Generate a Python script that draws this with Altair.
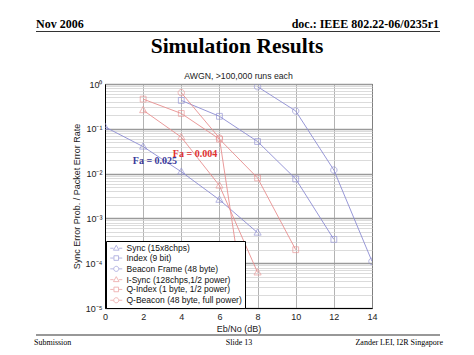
import altair as alt
import pandas as pd

# ---- data ----
series_names = [
    "Sync (15x8chps)",
    "Index (9 bit)",
    "Beacon Frame (48 byte)",
    "I-Sync (128chps,1/2 power)",
    "Q-Index (1 byte, 1/2 power)",
    "Q-Beacon (48 byte, full power)",
]
sync_x = [0, 2, 4, 6, 8]
sync_y = [0.11, 0.040, 0.011, 0.0026, 0.00048]
index_x = [4, 6, 8, 10, 12]
index_y = [0.43, 0.19, 0.052, 0.0076, 0.00034]
beacon_x = [8, 10, 12, 14]
beacon_y = [0.87, 0.25, 0.012, 0.00011]
isync_x = [2, 4, 6, 8]
isync_y = [0.26, 0.065, 0.0054, 0.000062]
qindex_x = [2, 4, 6, 8, 10]
qindex_y = [0.46, 0.22, 0.059, 0.008, 0.0002]
qbeacon_x = [4, 6, 8]
qbeacon_y = [0.64, 0.062, 0.00000015]

series_colors = ["#8c8cd2", "#8c8cd2", "#8c8cd2", "#e88e8e", "#e88e8e", "#e88e8e"]

x_ticks = [0, 2, 4, 6, 8, 10, 12, 14]
y_ticks = [m * 10.0 ** k for k in range(-5, 0) for m in range(1, 10)] + [1.0]

ann_text = ["Fa = 0.025", "Fa = 0.004"]
ann_x = [2.62, 4.72]
ann_y = [0.0195, 0.028]
ann_color = ["#3a3a9a", "#e03030"]

rows = []
for name, xs, ys in zip(series_names,
                        [sync_x, index_x, beacon_x, isync_x, qindex_x, qbeacon_x],
                        [sync_y, index_y, beacon_y, isync_y, qindex_y, qbeacon_y]):
    for xv, yv in zip(xs, ys):
        rows.append({"series": name, "x": xv, "y": yv})
df = pd.DataFrame(rows)
ann_df = pd.DataFrame({"t": ann_text, "x": ann_x, "y": ann_y, "c": ann_color})

# marker outlines (unit space) and legend versions with a short line through
tri = "M0,-0.85L0.8,0.55L-0.8,0.55Z"
sq = "M-0.65,-0.65H0.65V0.65H-0.65Z"
circ = "M0.72,0A0.72,0.72 0 1,1 -0.72,0A0.72,0.72 0 1,1 0.72,0Z"
plot_shapes = [tri, sq, circ, tri, sq, circ]
ln = "M-1.7,0H-0.75M0.75,0H1.7"
leg_shapes = [s + ln for s in plot_shapes]

W, H = 267, 224

xs = alt.Scale(domain=[0, 14], nice=False)
ys = alt.Scale(type="log", domain=[1e-5, 1], nice=False)

is_dec = "abs(log(datum.value)/LN10 - round(log(datum.value)/LN10)) < 1e-6"
exp_ = "round(log(datum.value)/LN10)"
label_expr = (
    f"({is_dec}) ? ('10' + ({exp_}==0 ? '⁰' : {exp_}==-1 ? '⁻¹' : {exp_}==-2 ? '⁻²' : "
    f"{exp_}==-3 ? '⁻³' : {exp_}==-4 ? '⁻⁴' : '⁻⁵')) : ''"
)

x_axis = alt.Axis(
    values=x_ticks, title="Eb/No (dB)", grid=True, gridColor="#a0a0a0", gridWidth=0.8,
    ticks=False, labelPadding=4, titlePadding=3, labelFontSize=9, titleFontSize=9,
    labelFont="Liberation Sans", titleFont="Liberation Sans", titleFontWeight="normal",
    domainColor="black", labelColor="#222", titleColor="#222", labelOverlap=False,
    labelFlush=False, labelBound=False)
y_axis = alt.Axis(
    values=y_ticks, labelExpr=label_expr, title="Sync Error Prob. / Packet Error Rate",
    grid=True,
    gridColor={"condition": {"test": is_dec, "value": "#9a9a9a"}, "value": "#d2d2d2"},
    gridWidth={"condition": {"test": is_dec, "value": 1.4}, "value": 0.8},
    ticks=False, labelPadding=3, titlePadding=4, labelFontSize=9, titleFontSize=9,
    labelFont="Liberation Sans", titleFont="Liberation Sans", titleFontWeight="normal",
    domainColor="black", labelColor="#222", titleColor="#222", labelOverlap=False)

def X():
    return alt.X("x:Q", scale=xs, axis=x_axis)

def Y():
    return alt.Y("y:Q", scale=ys, axis=y_axis)

color_plot = alt.Color("series:N", scale=alt.Scale(domain=series_names, range=series_colors),
                       legend=None)

lines = alt.Chart(df).mark_line(strokeWidth=0.9, clip=True).encode(
    x=X(), y=Y(), color=color_plot, detail="series:N")

points = alt.Chart(df).mark_point(filled=False, size=80, strokeWidth=0.9, clip=True).encode(
    x=X(), y=Y(), color=color_plot,
    shape=alt.Shape("series:N", scale=alt.Scale(domain=series_names, range=plot_shapes),
                    legend=None))

legend_layer = alt.Chart(df).transform_filter("false").mark_point(
    filled=False, size=50, strokeWidth=0.9).encode(
    x=X(), y=Y(),
    color=alt.Color("series:N", scale=alt.Scale(domain=series_names, range=series_colors),
                    legend=alt.Legend(title=None, orient="none", legendX=1, legendY=157,
                                      labelFont="Liberation Sans", labelFontSize=8.5,
                                      labelColor="#111", rowPadding=0.8, symbolSize=50,
                                      padding=3, strokeColor="black", fillColor="white",
                                      symbolOffset=3, labelOffset=6, labelLimit=200,
                                      symbolStrokeWidth=0.9)),
    shape=alt.Shape("series:N", scale=alt.Scale(domain=series_names, range=leg_shapes)))

ann = alt.Chart(ann_df).mark_text(font="Liberation Serif", fontWeight="bold", fontSize=10).encode(
    x=X(), y=Y(), text="t:N",
    color=alt.Color("c:N", scale=None))

def txt(s, x, y, size, align="left", bold=False, font="Liberation Serif", color="black"):
    return alt.Chart(pd.DataFrame({"t": [s]})).mark_text(
        align=align, baseline="alphabetic", fontSize=size, font=font,
        fontWeight="bold" if bold else "normal", color=color).encode(
        x=alt.value(x), y=alt.value(y), text="t:N")

def hrule(x1, x2, y, w=1.0):
    return alt.Chart(pd.DataFrame({"a": [0]})).mark_rule(color="#333", strokeWidth=w).encode(
        x=alt.value(x1), x2=alt.value(x2), y=alt.value(y))

deco = [
    txt("Nov 2006", -69, -56, 12, bold=True),
    txt("doc.: IEEE 802.22-06/0235r1", 334, -56, 12, align="right", bold=True),
    hrule(-69, 335, -52.5, 1.2),
    txt("Simulation Results", 132, -31, 21.5, align="center", bold=True),
    txt("AWGN, >100,000 runs each", 133.5, -5, 8.7, align="center", font="Liberation Sans",
        color="#222"),
    hrule(-69, 335, 251, 1.2),
    txt("Submission", -71, 261, 8),
    txt("Slide 13", 134, 261, 8, align="center"),
    txt("Zander LEI, I2R Singapore", 338, 261, 8, align="right"),
]

chart = alt.layer(lines, points, legend_layer, ann, *deco).resolve_scale(
    color="independent", shape="independent"
).properties(
    width=W, height=H,
    autosize=alt.AutoSizeParams(type="none"),
    padding={"left": 97, "top": 76, "right": 94, "bottom": 39},
    background="white",
).configure_view(stroke="black", strokeWidth=1)

chart.save("out.html", embed_options={"renderer": "svg", "actions": False})
